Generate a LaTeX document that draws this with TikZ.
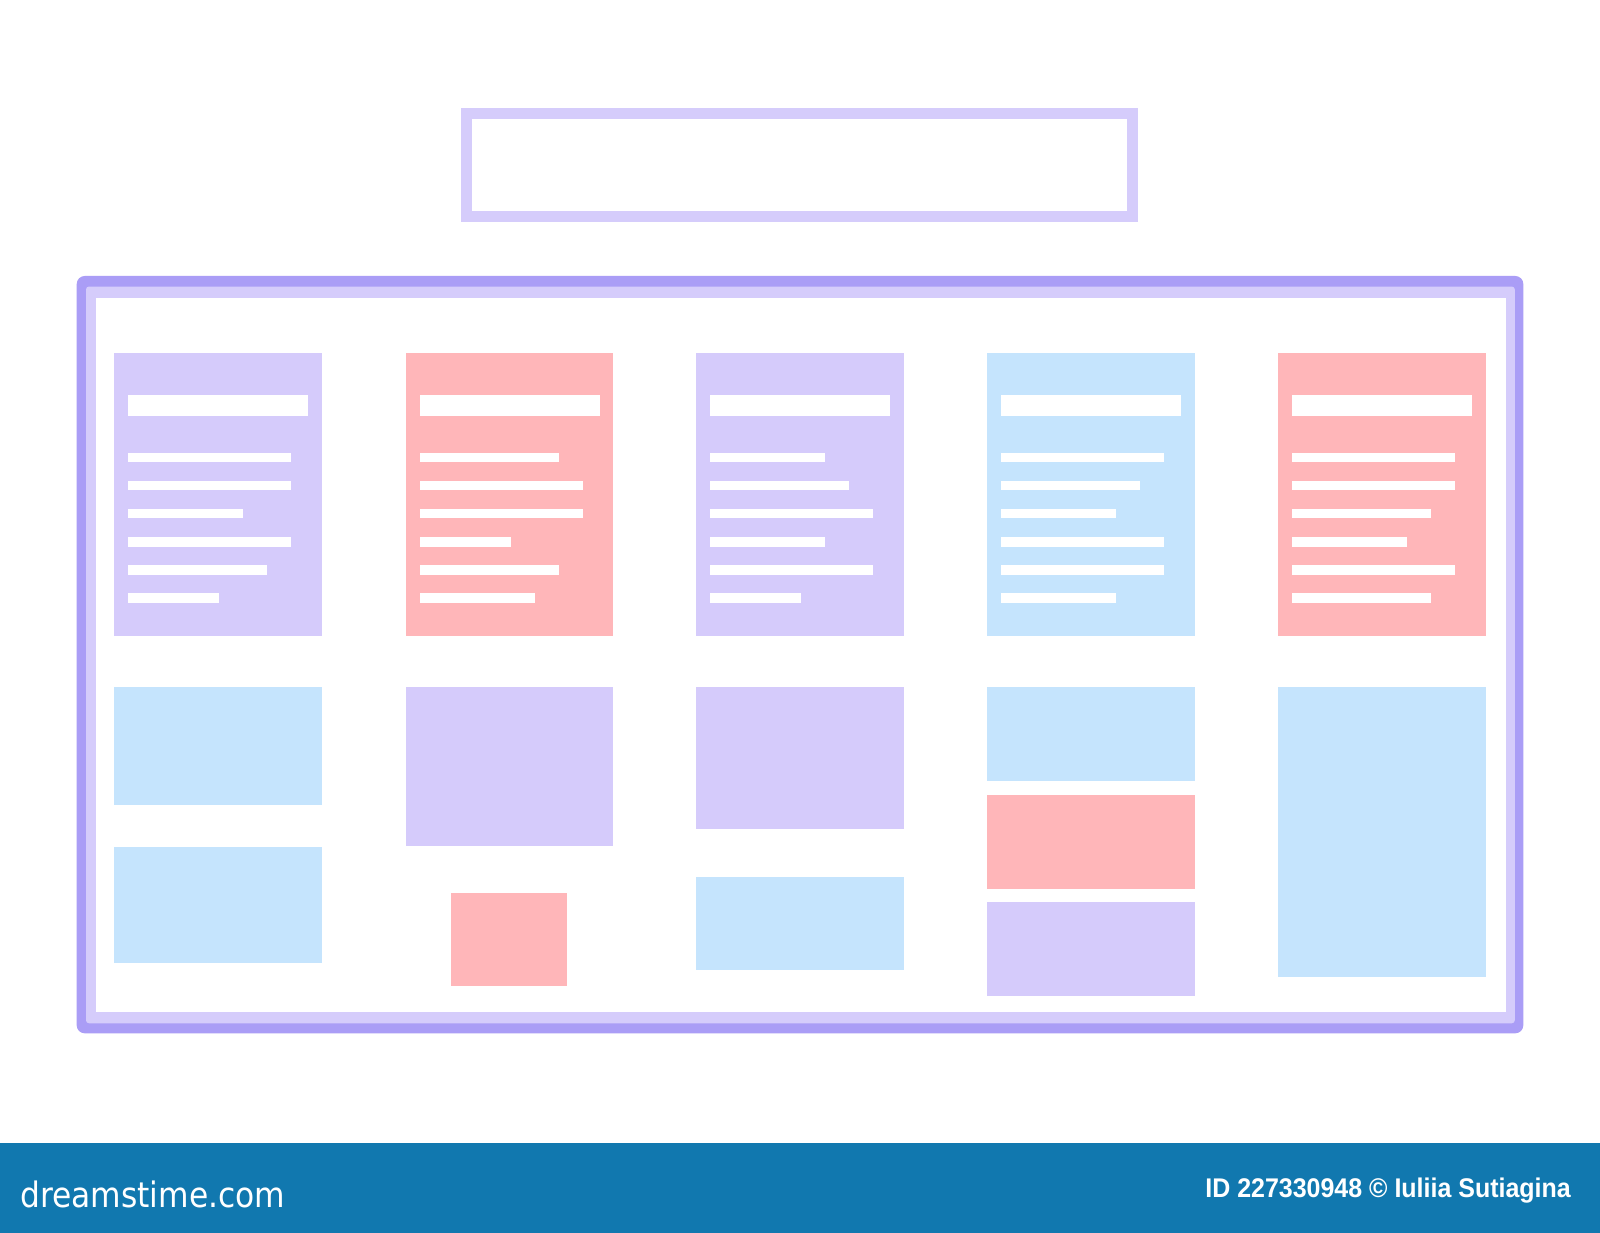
\documentclass[tikz,border=0pt]{standalone}
\usepackage{fontspec}
\setmainfont{Liberation Sans}
\newfontfamily\logofont{DejaVu Sans}
\definecolor{cpurple}{HTML}{D5CBFB}
\definecolor{cpink}{HTML}{FFB6B9}
\definecolor{cblue}{HTML}{C5E4FD}
\definecolor{framedark}{HTML}{AA9DF6}
\definecolor{framelight}{HTML}{D5CCFB}
\definecolor{banner}{HTML}{1178AF}
\tikzset{
  topbar/.style={draw=framelight, line width=11pt},
  textline/.style={fill=white},
}
\begin{document}
\begin{tikzpicture}[x=1pt,y=-1pt]
\useasboundingbox (0,0) rectangle (1600,1233);
\fill[white] (0,0) rectangle (1600,1233);
% title bar
\draw[topbar] (466.5,113.5) rectangle (1132.5,216.5);
% board frame
\fill[framedark, rounded corners=8pt] (76.7,276) rectangle (1523.3,1033.3);
\fill[framelight, rounded corners=3pt] (86,286.5) rectangle (1514.8,1023.3);
\fill[white] (95.5,298) rectangle (1505.8,1011.7);
% column cards with text lines
\foreach \x/\col/\la/\lb/\lc/\ld/\le/\lf in {
  114.3/cpurple/163/163/115/163/139/91,
  405.7/cpink/139/163/163/91/139/115,
  696/cpurple/115/139/163/115/163/91,
  987/cblue/163/139/115/163/163/115,
  1278/cpink/163/163/139/115/163/139} {
  \fill[\col] (\x,353.3) rectangle ++(207.5,282.7);
  \fill[textline] (\x+14,395) rectangle ++(180,21);
  \foreach \L [count=\k from 0] in {\la,\lb,\lc,\ld,\le,\lf}
    \fill[textline] (\x+14,452.7+28.1*\k) rectangle ++(\L,9.5);
}
% sticky notes
\fill[cblue]   (114.3,687.3) rectangle (321.8,805);
\fill[cblue]   (114.3,846.7) rectangle (321.8,963.3);
\fill[cpurple] (405.7,687.3) rectangle (613.2,846);
\fill[cpink]   (451.2,892.7) rectangle (566.6,986);
\fill[cpurple] (696,687.3) rectangle (903.5,829);
\fill[cblue]   (696,876.7) rectangle (903.5,970);
\fill[cblue]   (987,687.3) rectangle (1194.5,780.7);
\fill[cpink]   (987,795) rectangle (1194.5,888.7);
\fill[cpurple] (987,902.3) rectangle (1194.5,995.7);
\fill[cblue]   (1278,687.3) rectangle (1485.5,977.3);
% banner
\fill[banner] (0,1143) rectangle (1600,1233);
\node[anchor=base west, inner sep=0pt, text=white, font=\logofont\fontsize{35}{35}\selectfont] (logo) at (20,1207) {\scalebox{0.895}[1]{dreamstime.com}};
\node[anchor=base east, inner sep=0pt, text=white, font=\bfseries\fontsize{27}{27}\selectfont] (credit) at (1571,1197) {\scalebox{0.925}[1]{ID 227330948 © Iuliia Sutiagina}};
\end{tikzpicture}
\end{document}
